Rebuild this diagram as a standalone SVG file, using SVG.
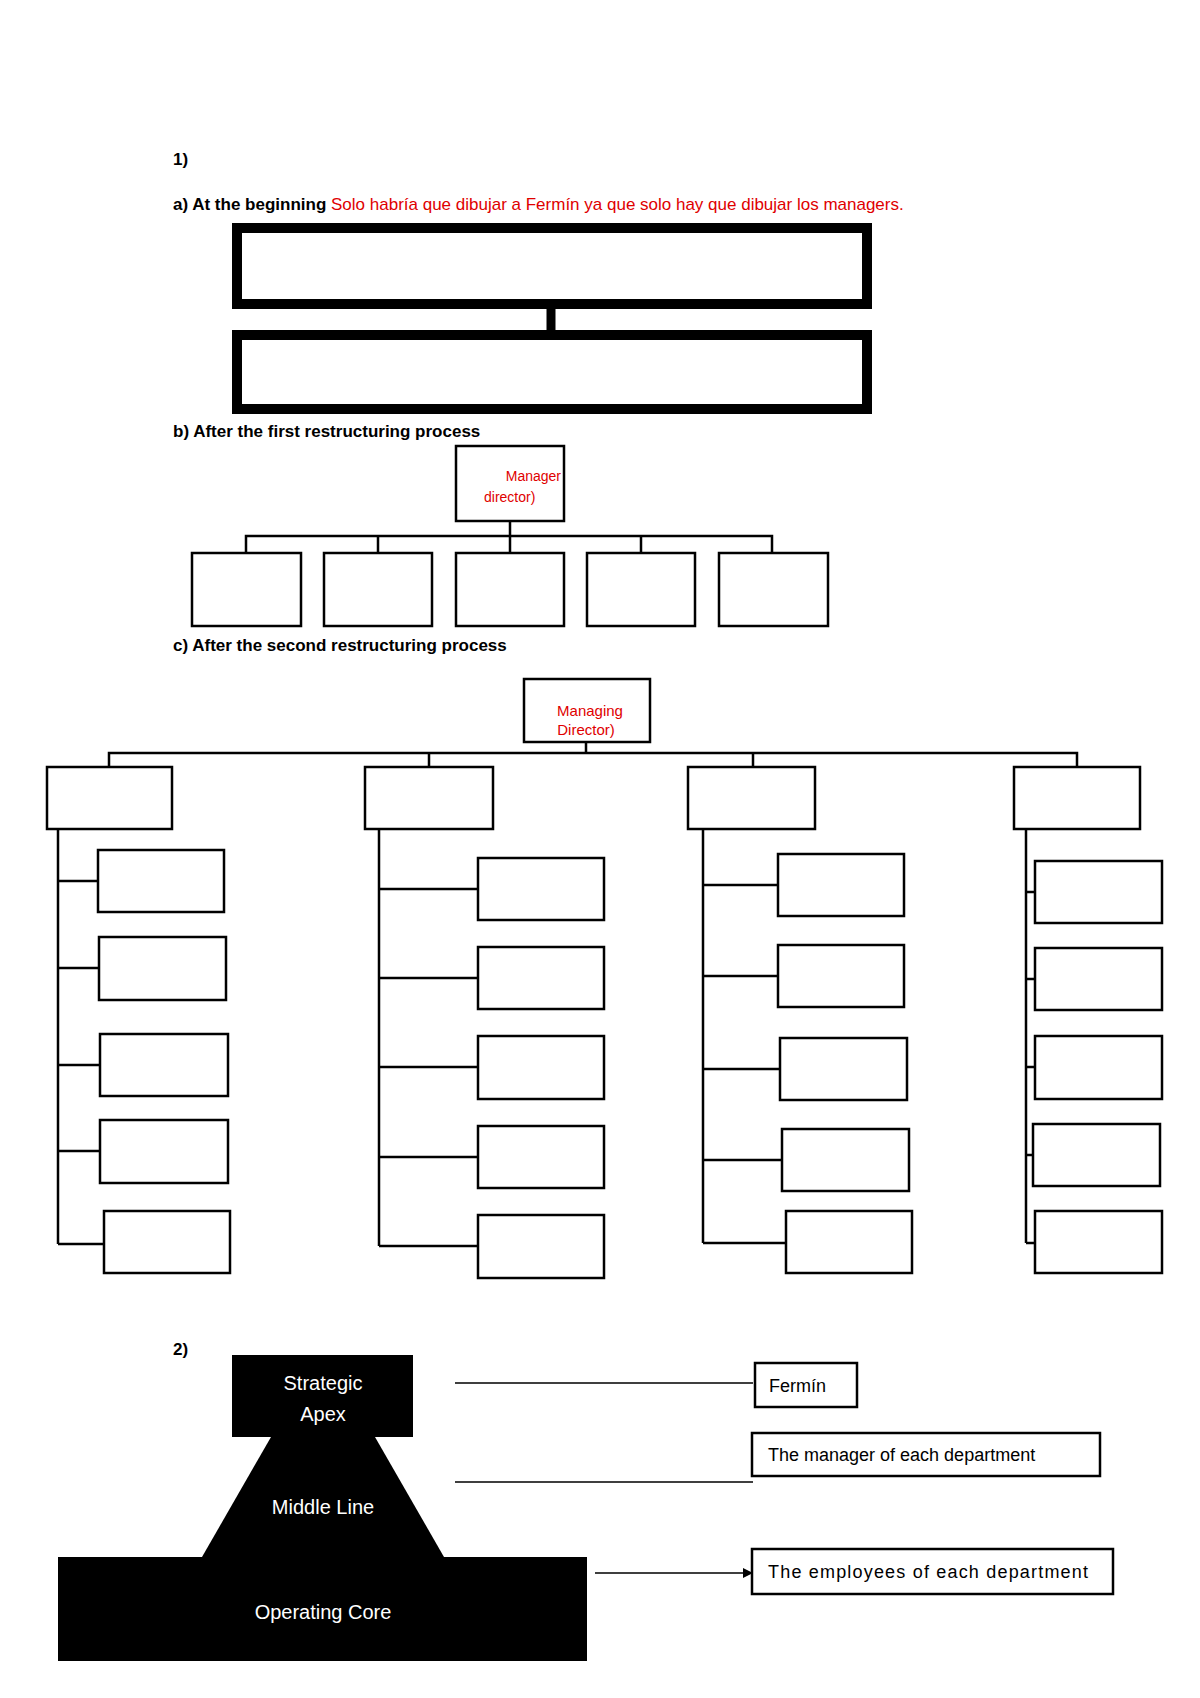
<svg xmlns="http://www.w3.org/2000/svg" width="1200" height="1698" viewBox="0 0 1200 1698">
<style>
text{font-family:"Liberation Sans",Arial,sans-serif}
.h{font-size:17px;font-weight:bold;fill:#000}
.r{fill:#e00000;font-weight:normal}
.b{fill:#fff;stroke:#000;stroke-width:2.5}
.l{stroke:#000;stroke-width:2.5;fill:none}
.w{fill:#fff;font-size:20px;text-anchor:middle}
.t{font-size:18px;fill:#000}
</style>
<defs><marker id="a" markerWidth="10" markerHeight="10" refX="9" refY="5" orient="auto" markerUnits="userSpaceOnUse"><path d="M0,0L10,5L0,10z" fill="#000"/></marker></defs>
<rect width="1200" height="1698" fill="#fff"/>
<text class="h" x="173" y="165">1)</text>
<text class="h" x="173" y="210">a) At the beginning <tspan class="r">Solo habría que dibujar a Fermín ya que solo hay que dibujar los managers.</tspan></text>
<text class="h" x="173" y="437">b) After the first restructuring process</text>
<text class="h" x="173" y="651">c) After the second restructuring process</text>
<text class="h" x="173" y="1355">2)</text>
<g id="a1"><rect x="237" y="228" width="630" height="76" fill="#fff" stroke="#000" stroke-width="10"/></g>
<g id="a2"><rect x="237" y="335" width="630" height="74" fill="#fff" stroke="#000" stroke-width="10"/></g>
<g id="b0"><rect class="b" x="456" y="446" width="108" height="75"/><text x="561" y="481" font-size="14" fill="#e00000" text-anchor="end">Manager</text><text x="484" y="502" font-size="14" fill="#e00000">director)</text></g>
<g id="b1"><rect class="b" x="192" y="553" width="109" height="73"/></g>
<g id="b2"><rect class="b" x="324" y="553" width="108" height="73"/></g>
<g id="b3"><rect class="b" x="456" y="553" width="108" height="73"/></g>
<g id="b4"><rect class="b" x="587" y="553" width="108" height="73"/></g>
<g id="b5"><rect class="b" x="719" y="553" width="109" height="73"/></g>
<g id="c0"><rect class="b" x="524" y="679" width="126" height="63"/><text x="590" y="716" font-size="15" fill="#e00000" text-anchor="middle">Managing</text><text x="586" y="735" font-size="15" fill="#e00000" text-anchor="middle">Director)</text></g>
<g id="c1"><rect class="b" x="47" y="767" width="125" height="62"/></g>
<g id="c2"><rect class="b" x="365" y="767" width="128" height="62"/></g>
<g id="c3"><rect class="b" x="688" y="767" width="127" height="62"/></g>
<g id="c4"><rect class="b" x="1014" y="767" width="126" height="62"/></g>
<g id="c1s"><rect class="b" x="98" y="850" width="126" height="62"/><rect class="b" x="99" y="937" width="127" height="63"/><rect class="b" x="100" y="1034" width="128" height="62"/><rect class="b" x="100" y="1120" width="128" height="63"/><rect class="b" x="104" y="1211" width="126" height="62"/></g>
<g id="c2s"><rect class="b" x="478" y="858" width="126" height="62"/><rect class="b" x="478" y="947" width="126" height="62"/><rect class="b" x="478" y="1036" width="126" height="63"/><rect class="b" x="478" y="1126" width="126" height="62"/><rect class="b" x="478" y="1215" width="126" height="63"/></g>
<g id="c3s"><rect class="b" x="778" y="854" width="126" height="62"/><rect class="b" x="778" y="945" width="126" height="62"/><rect class="b" x="780" y="1038" width="127" height="62"/><rect class="b" x="782" y="1129" width="127" height="62"/><rect class="b" x="786" y="1211" width="126" height="62"/></g>
<g id="c4s"><rect class="b" x="1035" y="861" width="127" height="62"/><rect class="b" x="1035" y="948" width="127" height="62"/><rect class="b" x="1035" y="1036" width="127" height="63"/><rect class="b" x="1033" y="1124" width="127" height="62"/><rect class="b" x="1035" y="1211" width="127" height="62"/></g>
<g id="p"><rect x="232" y="1355" width="181" height="82" fill="#000"/><path d="M271,1437H375L444,1557H202Z" fill="#000"/><rect x="58" y="1557" width="529" height="104" fill="#000"/>
<text class="w" x="323" y="1390">Strategic</text><text class="w" x="323" y="1421">Apex</text><text class="w" x="323" y="1514">Middle Line</text><text class="w" x="323" y="1619">Operating Core</text></g>
<g id="f"><rect class="b" x="755" y="1363" width="102" height="44"/><text class="t" x="769" y="1392">Fermín</text></g>
<g id="m"><rect class="b" x="752" y="1433" width="348" height="43"/><text class="t" x="768" y="1461">The manager of each department</text></g>
<g id="e"><rect class="b" x="752" y="1549" width="361" height="45"/><text class="t" x="768" y="1578" textLength="320">The employees of each department</text></g>
<g id="connectors">
<path d="M551,304V335" stroke="#000" stroke-width="9"/>
<path class="l" d="M510,521V553M246,553V536H772V553M378,536V553M641,536V553"/>
<path class="l" d="M586,742V753M109,767V753H1077V767M429,753V767M753,753V767"/>
<path class="l" d="M58,829V1244M58,881H98M58,968H99M58,1065H100M58,1151H100M58,1244H104"/>
<path class="l" d="M379,829V1246M379,889H478M379,978H478M379,1067H478M379,1157H478M379,1246H478"/>
<path class="l" d="M703,829V1243M703,885H778M703,976H778M703,1069H780M703,1160H782M703,1243H786"/>
<path class="l" d="M1026,829V1243M1026,892H1035M1026,979H1035M1026,1067H1035M1026,1155H1033M1026,1243H1035"/>
<path d="M455,1383H753M455,1482H753M595,1573H752" stroke="#000" stroke-width="1.5" marker-end="url(#a)"/>
</g>
</svg>
